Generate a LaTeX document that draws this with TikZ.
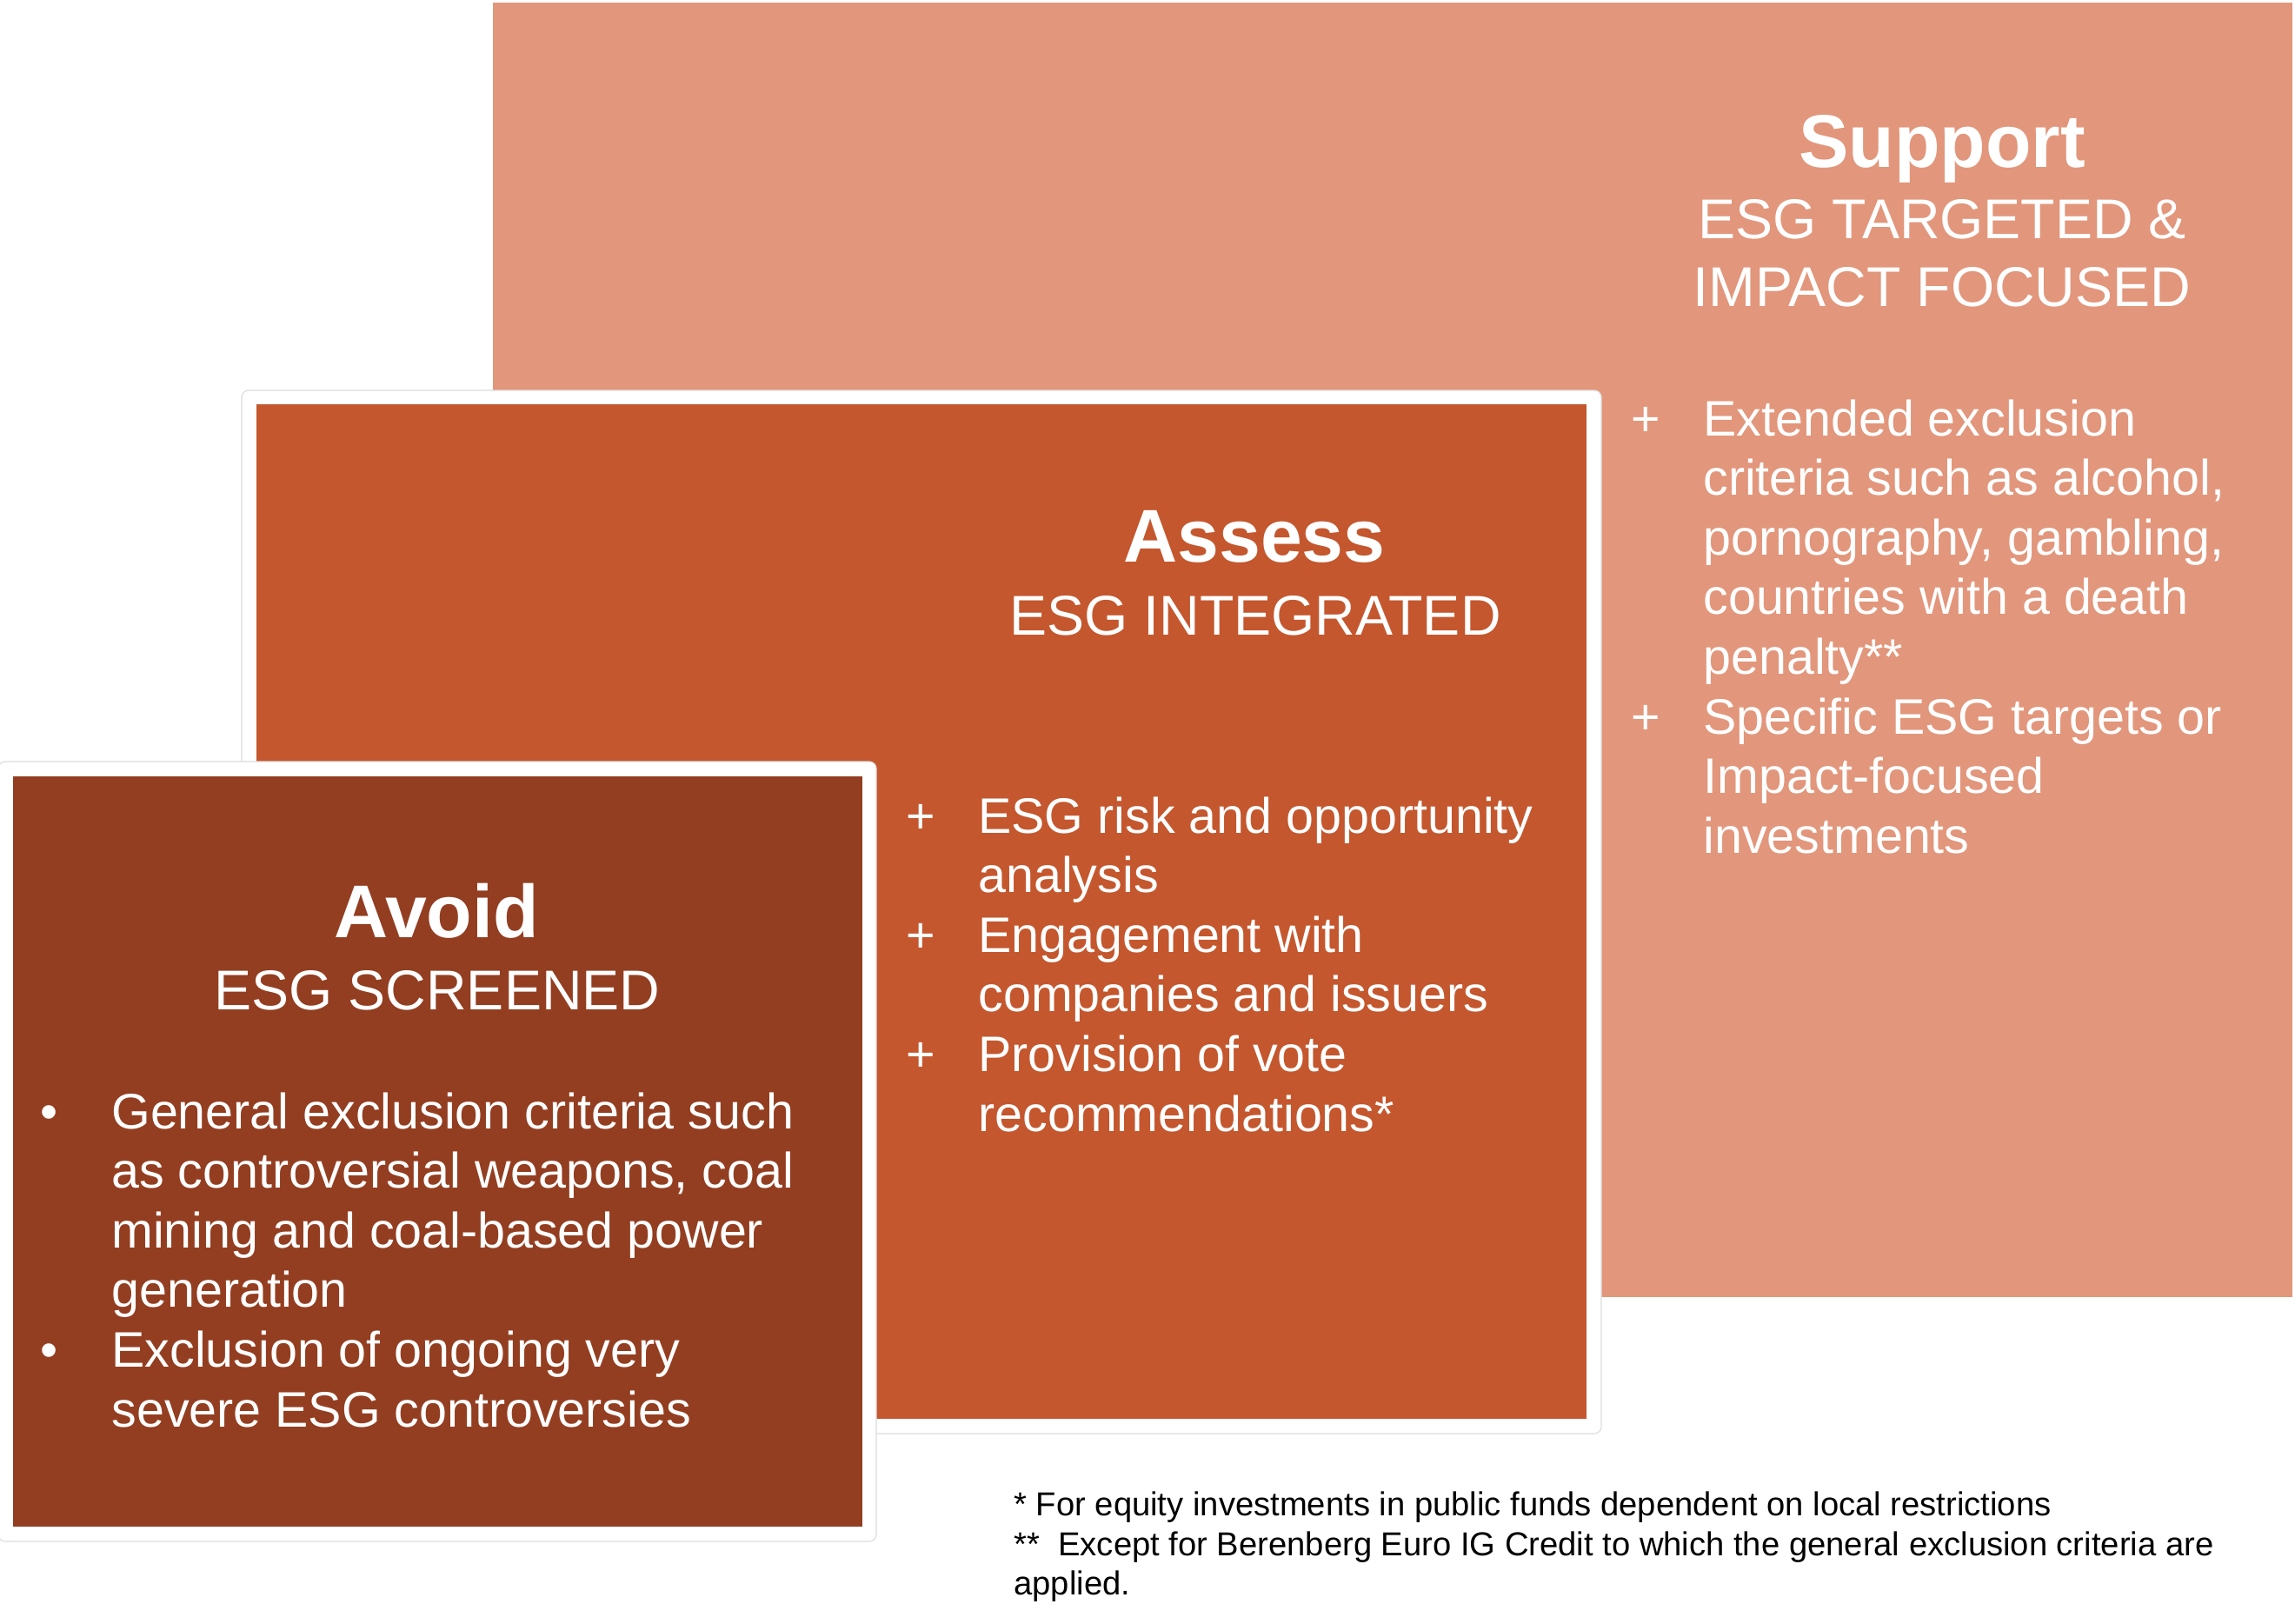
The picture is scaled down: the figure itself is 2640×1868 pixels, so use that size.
\documentclass[tikz,border=0pt]{standalone}
\usepackage{fontspec}
\setmainfont{Liberation Sans}
\definecolor{supc}{HTML}{E2967B}
\definecolor{assc}{HTML}{C4572E}
\definecolor{avoc}{HTML}{933E21}
\definecolor{frameline}{HTML}{DDDDDD}
\begin{document}
\begin{tikzpicture}[x=0.5pt,y=-0.5pt,
  ttl/.style={font=\fontsize{43}{52}\selectfont\bfseries, text=white, anchor=base, inner sep=0pt},
  sub/.style={font=\fontsize{32.25}{39}\selectfont, text=white, anchor=base, inner sep=0pt},
  body/.style={font=\fontsize{28.7}{34.3}\selectfont, text=white, anchor=base west, inner sep=0pt},
  bulletmark/.style={font=\fontsize{28.7}{34.3}\selectfont, text=white, anchor=base, inner sep=0pt},
  fn/.style={font=\fontsize{19.1}{22.75}\selectfont, text=black, anchor=base west, inner sep=0pt},
  whiteframe/.style={fill=white, draw=frameline, line width=0.6pt, rounded corners=4pt},
]
\fill[white] (0,0) rectangle (2640,1868);
\useasboundingbox (0,0) rectangle (2640,1868);

% boxes
\fill[supc] (567,3) rectangle (2637,1492);
\draw[whiteframe] (278,449) rectangle (1842,1649);
\fill[assc] (295,465) rectangle (1825,1632);
\draw[whiteframe] (-2,876) rectangle (1008,1773);
\fill[avoc] (15,893) rectangle (992,1756);

% Support
\node[ttl] (supT) at (2234,192) {Support};
\node[sub] (supS1) at (2234,274) {ESG TARGETED \&};
\node[sub] (supS2) at (2234,352) {IMPACT FOCUSED};
\node[bulletmark] (supM1) at (1893,501) {+};
\node[bulletmark] (supM2) at (1893,844) {+};
\node[body] (supL1) at (1959,501) {Extended exclusion};
\node[body] (supL2) at (1959,569.6) {criteria such as alcohol,};
\node[body] (supL3) at (1959,638.2) {pornography, gambling,};
\node[body] (supL4) at (1959,706.8) {countries with a death};
\node[body] (supL5) at (1959,775.4) {penalty**};
\node[body] (supL6) at (1959,844) {Specific ESG targets or};
\node[body] (supL7) at (1959,912.6) {Impact-focused};
\node[body] (supL8) at (1959,981.2) {investments};

% Assess
\node[ttl] (assT) at (1443,646) {Assess};
\node[sub] (assS1) at (1444,730) {ESG INTEGRATED};
\node[bulletmark] (assM1) at (1059,958) {+};
\node[bulletmark] (assM2) at (1059,1095.2) {+};
\node[bulletmark] (assM3) at (1059,1232.4) {+};
\node[body] (assL1) at (1125,958) {ESG risk and opportunity};
\node[body] (assL2) at (1125,1026.6) {analysis};
\node[body] (assL3) at (1125,1095.2) {Engagement with};
\node[body] (assL4) at (1125,1163.8) {companies and issuers};
\node[body] (assL5) at (1125,1232.4) {Provision of vote};
\node[body] (assL6) at (1125,1301) {recommendations*};

% Avoid
\node[ttl] (avoT) at (502,1078) {Avoid};
\node[sub] (avoS1) at (503,1161) {ESG SCREENED};
\node[bulletmark] (avoM1) at (57,1298) {•};
\node[bulletmark] (avoM2) at (57,1572.4) {•};
\node[body] (avoL1) at (128,1298) {General exclusion criteria such};
\node[body] (avoL2) at (128,1366.6) {as controversial weapons, coal};
\node[body] (avoL3) at (128,1435.2) {mining and coal-based power};
\node[body] (avoL4) at (128,1503.8) {generation};
\node[body] (avoL5) at (128,1572.4) {Exclusion of ongoing very};
\node[body] (avoL6) at (128,1641) {severe ESG controversies};

% footnotes
\node[fn] (fn1) at (1166,1743) {* For equity investments in public funds dependent on local restrictions};
\node[fn] (fn2) at (1166,1789) {**\ \ Except for Berenberg Euro IG Credit to which the general exclusion criteria are};
\node[fn] (fn3) at (1166,1834) {applied.};
\end{tikzpicture}
\end{document}
